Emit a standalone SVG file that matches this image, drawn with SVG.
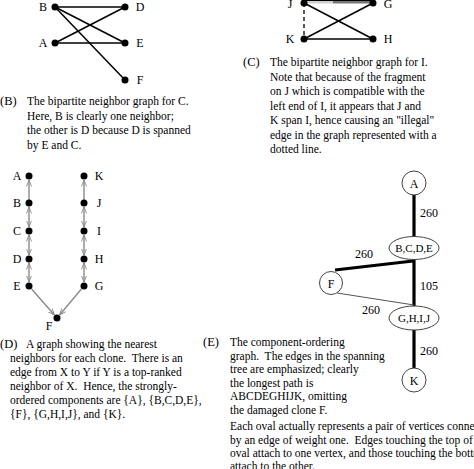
<svg xmlns="http://www.w3.org/2000/svg" width="474" height="469" viewBox="0 0 474 469">
<style>
text{font-family:"Liberation Serif","Times New Roman",serif;fill:#000}
.cap{font-size:11.5px}
.tag{font-size:12.5px}
.lbl{font-size:12px;text-anchor:middle}
.wt{font-size:12px}
.e{stroke:#000;stroke-width:1.5;fill:none}
.g{stroke:#8a8a8a;stroke-width:1.4;fill:none}
.thick{stroke:#000;stroke-width:3.2;fill:none}
.thin{stroke:#555;stroke-width:1;fill:none}
.ov{fill:#fff;stroke:#444;stroke-width:1}
.dot{fill:#000}
</style>
<defs>
<marker id="ah" viewBox="0 0 10 10" refX="10" refY="5" markerWidth="6.5" markerHeight="6.5" markerUnits="userSpaceOnUse" orient="auto-start-reverse">
<path d="M0,1 L10,5 L0,9" fill="none" stroke="#8a8a8a" stroke-width="1.4"/>
</marker>
</defs>

<!-- connectors -->
<g id="connectors">
<!-- panel B -->
<line class="e" x1="55" y1="7" x2="125" y2="7"/>
<line class="e" x1="55" y1="7" x2="125" y2="43"/>
<line class="e" x1="55" y1="7" x2="125" y2="80"/>
<line class="e" x1="55" y1="43" x2="125" y2="7"/>
<line class="e" x1="55" y1="43" x2="125" y2="43"/>
<!-- panel C -->
<line x1="304" y1="2" x2="333" y2="2" stroke="#cfcfcf" stroke-width="3"/>
<line x1="333" y1="2" x2="373" y2="2" stroke="#777" stroke-width="3"/>
<line x1="304" y1="0.5" x2="373" y2="0.5" stroke="#000" stroke-width="1"/>
<line class="e" x1="304" y1="3" x2="373" y2="39"/>
<line class="e" x1="304" y1="39" x2="373" y2="3"/>
<line class="e" x1="304" y1="39" x2="373" y2="39"/>
<line x1="304" y1="3" x2="304" y2="39" stroke="#000" stroke-width="1.3" stroke-dasharray="4,3"/>
<!-- panel D -->
<line class="g" x1="29" y1="200" x2="29" y2="180" marker-end="url(#ah)"/>
<line class="g" x1="29" y1="207" x2="29" y2="227" marker-start="url(#ah)" marker-end="url(#ah)"/>
<line class="g" x1="29" y1="235" x2="29" y2="255" marker-start="url(#ah)" marker-end="url(#ah)"/>
<line class="g" x1="29" y1="263" x2="29" y2="282" marker-start="url(#ah)" marker-end="url(#ah)"/>
<line class="g" x1="84" y1="200" x2="84" y2="180" marker-end="url(#ah)"/>
<line class="g" x1="84" y1="207" x2="84" y2="227" marker-start="url(#ah)" marker-end="url(#ah)"/>
<line class="g" x1="84" y1="235" x2="84" y2="255" marker-start="url(#ah)" marker-end="url(#ah)"/>
<line class="g" x1="84" y1="263" x2="84" y2="282" marker-start="url(#ah)" marker-end="url(#ah)"/>
<line class="g" x1="31.6" y1="289" x2="54.4" y2="315" marker-end="url(#ah)"/>
<line class="g" x1="81.4" y1="289" x2="59.6" y2="315" marker-end="url(#ah)"/>
<!-- panel E -->
<line class="thick" x1="414" y1="195" x2="414" y2="237"/>
<line class="thick" x1="413" y1="261" x2="335" y2="270"/>
<line class="thick" x1="414" y1="259" x2="414" y2="306"/>
<line class="thin" x1="337" y1="293" x2="414" y2="305"/>
<line class="thick" x1="414" y1="330" x2="414" y2="368"/>
<text class="wt" x="420" y="217">260</text>
<text class="wt" x="355" y="258">260</text>
<text class="wt" x="420" y="290">105</text>
<text class="wt" x="362" y="314">260</text>
<text class="wt" x="420" y="355">260</text>
</g>

<!-- panel B nodes -->
<g id="nB"><circle class="dot" cx="55" cy="7" r="3.5"/><text class="lbl" x="43" y="11">B</text></g>
<g id="nD"><circle class="dot" cx="125" cy="7" r="3.5"/><text class="lbl" x="140" y="11">D</text></g>
<g id="nA"><circle class="dot" cx="55" cy="43" r="3.5"/><text class="lbl" x="43" y="47">A</text></g>
<g id="nE"><circle class="dot" cx="125" cy="43" r="3.5"/><text class="lbl" x="140" y="47">E</text></g>
<g id="nF"><circle class="dot" cx="125" cy="80" r="3.5"/><text class="lbl" x="140" y="84">F</text></g>

<!-- panel C nodes -->
<g id="cJ"><circle class="dot" cx="304" cy="3" r="3.5"/><text class="lbl" x="290" y="7.5">J</text></g>
<g id="cG"><circle class="dot" cx="373" cy="3" r="3.5"/><text class="lbl" x="388" y="7.5">G</text></g>
<g id="cK"><circle class="dot" cx="304" cy="39" r="3.5"/><text class="lbl" x="290" y="43">K</text></g>
<g id="cH"><circle class="dot" cx="373" cy="39" r="3.5"/><text class="lbl" x="388" y="43">H</text></g>

<!-- panel D nodes -->
<g id="dA"><circle class="dot" cx="29" cy="176" r="3.5"/><text class="lbl" x="17" y="180">A</text></g>
<g id="dB"><circle class="dot" cx="29" cy="203" r="3.5"/><text class="lbl" x="17" y="207">B</text></g>
<g id="dC"><circle class="dot" cx="29" cy="231" r="3.5"/><text class="lbl" x="17" y="235">C</text></g>
<g id="dD"><circle class="dot" cx="29" cy="259" r="3.5"/><text class="lbl" x="17" y="263">D</text></g>
<g id="dE"><circle class="dot" cx="29" cy="286" r="3.5"/><text class="lbl" x="17" y="290">E</text></g>
<g id="dK"><circle class="dot" cx="84" cy="176" r="3.5"/><text class="lbl" x="99" y="180">K</text></g>
<g id="dJ"><circle class="dot" cx="84" cy="203" r="3.5"/><text class="lbl" x="99" y="207">J</text></g>
<g id="dI"><circle class="dot" cx="84" cy="231" r="3.5"/><text class="lbl" x="99" y="235">I</text></g>
<g id="dH"><circle class="dot" cx="84" cy="259" r="3.5"/><text class="lbl" x="99" y="263">H</text></g>
<g id="dG"><circle class="dot" cx="84" cy="286" r="3.5"/><text class="lbl" x="99" y="290">G</text></g>
<g id="dF"><circle class="dot" cx="57" cy="318" r="3.5"/><text class="lbl" x="49" y="330">F</text></g>

<!-- panel E nodes -->
<g id="eA"><circle class="ov" cx="414" cy="183" r="12"/><text class="lbl" x="414" y="187.5">A</text></g>
<g id="eBCDE"><ellipse class="ov" cx="414" cy="248" rx="25" ry="11.5"/><text class="lbl" x="414" y="252" style="font-size:11px">B,C,D,E</text></g>
<g id="eF"><circle class="ov" cx="331" cy="283" r="11.5"/><text class="lbl" x="331" y="287.5">F</text></g>
<g id="eGHIJ"><ellipse class="ov" cx="414" cy="318" rx="25" ry="12"/><text class="lbl" x="414" y="322" style="font-size:11px">G,H,I,J</text></g>
<g id="eK"><circle class="ov" cx="414" cy="380" r="12"/><text class="lbl" x="414" y="384.5">K</text></g>

<!-- captions -->
<g id="capB" class="cap">
<text class="tag" x="0" y="105">(B)</text>
<text x="27" y="105">The bipartite neighbor graph for C.</text>
<text x="27" y="119.5">Here, B is clearly one neighbor;</text>
<text x="27" y="134">the other is D because D is spanned</text>
<text x="27" y="148.5">by E and C.</text>
</g>
<g id="capC" class="cap">
<text class="tag" x="243" y="66">(C)</text>
<text x="270" y="66">The bipartite neighbor graph for I.</text>
<text x="270" y="80.5">Note that because of the fragment</text>
<text x="270" y="95">on J which is compatible with the</text>
<text x="270" y="109.5">left end of I, it appears that J and</text>
<text x="270" y="124">K span I, hence causing an "illegal"</text>
<text x="270" y="138.5">edge in the graph represented with a</text>
<text x="270" y="153">dotted line.</text>
</g>
<g id="capD" class="cap">
<text class="tag" x="0" y="348">(D)</text>
<text x="26" y="348">A graph showing the nearest</text>
<text x="10" y="362">neighbors for each clone.&#160; There is an</text>
<text x="10" y="376">edge from X to Y if Y is a top-ranked</text>
<text x="10" y="390">neighbor of X.&#160; Hence, the strongly-</text>
<text x="10" y="404">ordered components are {A}, {B,C,D,E},</text>
<text x="10" y="418">{F}, {G,H,I,J}, and {K}.</text>
</g>
<g id="capE" class="cap">
<text class="tag" x="203" y="346">(E)</text>
<text x="230" y="346">The component-ordering</text>
<text x="230" y="359.5">graph.&#160; The edges in the spanning</text>
<text x="230" y="373">tree are emphasized; clearly</text>
<text x="230" y="386.5">the longest path is</text>
<text x="230" y="400">ABCDEGHIJK, omitting</text>
<text x="230" y="413.5">the damaged clone F.</text>
<text x="230" y="430">Each oval actually represents a pair of vertices connected</text>
<text x="230" y="443.5">by an edge of weight one.&#160; Edges touching the top of the</text>
<text x="230" y="457">oval attach to one vertex, and those touching the bottom</text>
<text x="230" y="470">attach to the other.</text>
</g>
</svg>
